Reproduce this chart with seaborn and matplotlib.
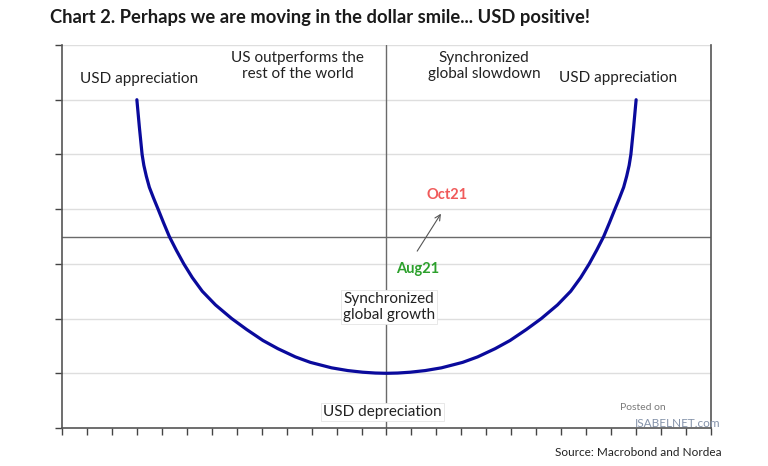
import numpy as np
import pandas as pd
import matplotlib
matplotlib.use("Agg")
import matplotlib.pyplot as plt
import seaborn as sns

# dollar smile curve (x: 0..26 grid, y: 0..7 grid)
x_left = [3.0, 3.1, 3.21, 3.28, 3.38, 3.5, 3.67, 3.85, 4.07, 4.3, 4.58, 4.88, 5.22,
          5.62, 6.15, 6.8, 7.4, 8.05, 8.65, 9.35, 9.95, 10.8, 11.45, 12.05, 12.55, 13.0]
y_left = [6.0, 5.5, 5.0, 4.8, 4.6, 4.4, 4.2, 4.0, 3.75, 3.5, 3.25, 3.0, 2.75,
          2.5, 2.25, 2.0, 1.8, 1.6, 1.45, 1.3, 1.2, 1.1, 1.05, 1.02, 1.005, 1.0]
x_right = [13.45, 13.95, 14.55, 15.2, 16.05, 16.65, 17.35, 17.95, 18.6, 19.2, 19.85,
           20.38, 20.78, 21.12, 21.42, 21.7, 21.93, 22.15, 22.33, 22.5, 22.62, 22.72,
           22.79, 22.9, 23.0]
y_right = [1.005, 1.02, 1.05, 1.1, 1.2, 1.3, 1.45, 1.6, 1.8, 2.0, 2.25,
           2.5, 2.75, 3.0, 3.25, 3.5, 3.75, 4.0, 4.2, 4.4, 4.6, 4.8,
           5.0, 5.5, 6.0]

# labels
title = "Chart 2. Perhaps we are moving in the dollar smile... USD positive!"
regimes = ["USD appreciation", "US outperforms the\nrest of the world",
           "Synchronized\nglobal slowdown", "USD appreciation",
           "Synchronized\nglobal growth", "USD depreciation"]
regime_x = [3.07, 9.44, 16.9, 22.26, 13.1, 12.85]
regime_y = [6.38, 6.62, 6.62, 6.4, 2.21, 0.29]
points = ["Aug21", "Oct21"]
point_x = [14.25, 15.41]
point_y = [2.91, 4.26]

df = pd.DataFrame({"x": x_left + x_right, "y": y_left + y_right})

sns.set_style("white")
plt.rcParams["font.family"] = ["Lato", "DejaVu Sans"]

fig = plt.figure(figsize=(7.68, 4.66), dpi=100)
ax = fig.add_axes([0.0807, 0.0815, 0.8451, 0.8219])

for g in range(1, 8):
    ax.axhline(g, color="#dedede", lw=1.0, zorder=0)
ax.axhline(3.5, color="#6a6a6a", lw=1.0, zorder=1)
ax.axvline(13, color="#6a6a6a", lw=1.0, zorder=1)

sns.lineplot(data=df, x="x", y="y", sort=False, color="#0a0a9c", lw=2.3, ax=ax, zorder=3)

ax.set_xlim(0, 26)
ax.set_ylim(0, 7)
ax.set_xticks(range(0, 27))
ax.set_yticks(range(0, 8))
ax.set_xticklabels([])
ax.set_yticklabels([])
ax.set_xlabel("")
ax.set_ylabel("")
ax.tick_params(axis="both", direction="out", length=5, width=1, color="#444444",
               bottom=True, left=True)
for side in ["left", "bottom", "right"]:
    ax.spines[side].set_color("#555555")
    ax.spines[side].set_linewidth(1.2)
ax.spines["top"].set_visible(False)

box = dict(boxstyle="square,pad=0.15", fc="white", ec="#e4e4e4", lw=0.6)
for i, (lab, xx, yy) in enumerate(zip(regimes, regime_x, regime_y)):
    ax.text(xx, yy, lab, ha="center", va="center", fontsize=11, color="#222222",
            linespacing=1.2, bbox=box if i >= 4 else None, zorder=4)

ax.text(point_x[0], point_y[0], points[0], ha="center", va="center", fontsize=10.5,
        fontweight="bold", color="#2ca02c", zorder=4)
ax.text(point_x[1], point_y[1], points[1], ha="center", va="center", fontsize=10.5,
        fontweight="bold", color="#f05a5a", zorder=4)
ax.annotate("", xy=(15.24, 3.96), xytext=(14.17, 3.19),
            arrowprops=dict(arrowstyle="->", color="#555555", lw=0.8), zorder=4)

fig.text(0.065, 0.963, title, fontsize=13.2, fontweight="bold", color="#1a1a1a",
         ha="left", va="center")
fig.text(0.94, 0.03, "Source: Macrobond and Nordea", fontsize=8.5, color="#222222",
         ha="right", va="center")
fig.text(0.837, 0.125, "Posted on", fontsize=7.5, color="#7a7a7a", ha="center", va="center")
fig.text(0.883, 0.092, "ISABELNET.com", fontsize=8.5, color="#8593aa", ha="center",
         va="center", zorder=10)

fig.savefig("out.png", dpi=100)
